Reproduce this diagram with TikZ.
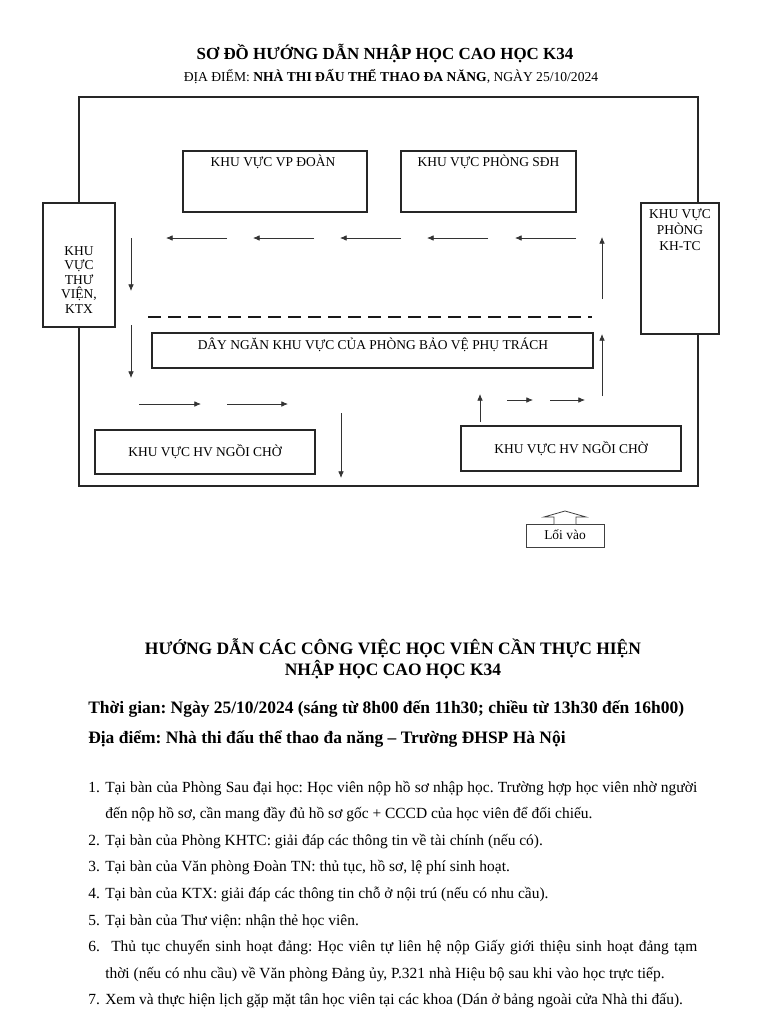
\documentclass[tikz,border=0pt]{standalone}
\usepackage{fontspec}
\setmainfont{Liberation Serif}
\usetikzlibrary{arrows.meta}
\frenchspacing
\begin{document}
\begin{tikzpicture}[x=0.75pt,y=-0.75pt,
  boxline/.style={draw=black!85, line width=0.8pt, fill=white},
  flow/.style={draw=black!80, line width=0.6pt, -{Latex[length=5pt,width=4.2pt]}},
  txt/.style={inner sep=0pt, anchor=base},
  lbl/.style={txt, font=\fontsize{10.1}{12}\selectfont},
  ttl/.style={txt, font=\fontsize{12.7}{14}\selectfont\bfseries},
  hdg/.style={txt, font=\fontsize{13.1}{15}\selectfont\bfseries},
  body/.style={inner sep=0pt, anchor=base west, font=\fontsize{11.6}{14}\selectfont},
  bhead/.style={inner sep=0pt, anchor=base west, font=\fontsize{13.1}{15}\selectfont\bfseries}]
\useasboundingbox[fill=white] (0,0) rectangle (768,1024);

% titles
\node[ttl] (t1) at (385,59.5) {SƠ ĐỒ HƯỚNG DẪN NHẬP HỌC CAO HỌC K34};
\node[txt, font=\fontsize{10.2}{12}\selectfont] (t2) at (391,81) {ĐỊA ĐIỂM: \textbf{NHÀ THI ĐẤU THỂ THAO ĐA NĂNG}, NGÀY 25/10/2024};

% outer hall
\draw[draw=black!85, line width=0.8pt] (79,97) rectangle (698,486);

% boxes
\draw[boxline] (43,203) rectangle (115,327);
\draw[boxline] (641,203) rectangle (719,334);
\draw[boxline] (183,151) rectangle (367,212);
\draw[boxline] (401,151) rectangle (576,212);
\draw[boxline] (152,333) rectangle (593,368);
\draw[boxline] (95,430) rectangle (315,474);
\draw[boxline] (461,426) rectangle (681,471);

% labels
\node[lbl] (vp) at (273,166.5) {KHU VỰC VP ĐOÀN};
\node[lbl] (sdh) at (488.5,166.5) {KHU VỰC PHÒNG SĐH};
\node[lbl] (tv1) at (79,255) {KHU};
\node[lbl] (tv2) at (79,269.5) {VỰC};
\node[lbl] (tv3) at (79,284) {THƯ};
\node[lbl] (tv4) at (79,298.5) {VIỆN,};
\node[lbl] (tv5) at (79,313) {KTX};
\node[lbl] (kh1) at (680,218.5) {KHU VỰC};
\node[lbl] (kh2) at (680,234.5) {PHÒNG};
\node[lbl] (kh3) at (680,250.5) {KH-TC};
\node[lbl] (bv) at (373,349) {DÂY NGĂN KHU VỰC CỦA PHÒNG BẢO VỆ PHỤ TRÁCH};
\node[lbl] (hv1) at (205,456) {KHU VỰC HV NGỒI CHỜ};
\node[lbl] (hv2) at (571,453) {KHU VỰC HV NGỒI CHỜ};

% rope
\draw[black!90, line width=2.2pt, dash pattern=on 9.4pt off 5.6pt] (148,317) -- (592,317);

% flow arrows
\foreach \a/\b [count=\i] in {227/166,314/253,401/340,488/427,576/515}{
  \coordinate (ts\i) at (\a,238); \coordinate (te\i) at (\b,238);
  \draw[flow] (ts\i) -- (te\i);}
\coordinate (ld1s) at (131,238); \coordinate (ld1e) at (131,291);
\draw[flow] (ld1s) -- (ld1e);
\coordinate (ld2s) at (131,325); \coordinate (ld2e) at (131,378);
\draw[flow] (ld2s) -- (ld2e);
\coordinate (ru1s) at (602,299); \coordinate (ru1e) at (602,237);
\draw[flow] (ru1s) -- (ru1e);
\coordinate (ru2s) at (602,396); \coordinate (ru2e) at (602,334);
\draw[flow] (ru2s) -- (ru2e);
\coordinate (br1s) at (139,404); \coordinate (br1e) at (201,404);
\draw[flow] (br1s) -- (br1e);
\coordinate (br2s) at (227,404); \coordinate (br2e) at (288,404);
\draw[flow] (br2s) -- (br2e);
\coordinate (dns) at (341,413); \coordinate (dne) at (341,478);
\draw[flow] (dns) -- (dne);
\coordinate (ups) at (480,422); \coordinate (upe) at (480,394);
\draw[flow] (ups) -- (upe);
\coordinate (sr1s) at (507,400); \coordinate (sr1e) at (533,400);
\draw[flow] (sr1s) -- (sr1e);
\coordinate (sr2s) at (550,400); \coordinate (sr2e) at (585,400);
\draw[flow] (sr2s) -- (sr2e);

% entrance
\draw[draw=black!75, line width=0.6pt] (526,524) rectangle (604,547);
\node[lbl] (lv) at (565,539.5) {Lối vào};
\draw[draw=black!75, line width=0.6pt, fill=white] (554,524) -- (554,517) -- (544,517) -- (565,511) -- (586,517) -- (576,517) -- (576,524);

% instructions
\node[hdg] (h1) at (393,654) {HƯỚNG DẪN CÁC CÔNG VIỆC HỌC VIÊN CẦN THỰC HIỆN};
\node[hdg] (h2) at (393,675) {NHẬP HỌC CAO HỌC K34};
\node[bhead] (tg) at (88,713.5) {Thời gian: Ngày 25/10/2024 (sáng từ 8h00 đến 11h30; chiều từ 13h30 đến 16h00)};
\node[bhead] (dd) at (88,743.5) {Địa điểm: Nhà thi đấu thể thao đa năng – Trường ĐHSP Hà Nội};

\node[body] (n1) at (88,792) {1.};
\node[body] (l1a) at (105,792) {\makebox[444pt][s]{Tại bàn của Phòng Sau đại học: Học viên nộp hồ sơ nhập học. Trường hợp học viên nhờ người}};
\node[body] (l1b) at (105,818.6) {đến nộp hồ sơ, cần mang đầy đủ hồ sơ gốc + CCCD của học viên để đối chiếu.};
\node[body] (n2) at (88,845.2) {2.};
\node[body] (l2) at (105,845.2) {Tại bàn của Phòng KHTC: giải đáp các thông tin về tài chính (nếu có).};
\node[body] (n3) at (88,871.8) {3.};
\node[body] (l3) at (105,871.8) {Tại bàn của Văn phòng Đoàn TN: thủ tục, hồ sơ, lệ phí sinh hoạt.};
\node[body] (n4) at (88,898.4) {4.};
\node[body] (l4) at (105,898.4) {Tại bàn của KTX: giải đáp các thông tin chỗ ở nội trú (nếu có nhu cầu).};
\node[body] (n5) at (88,925) {5.};
\node[body] (l5) at (105,925) {Tại bàn của Thư viện: nhận thẻ học viên.};
\node[body] (n6) at (88,951.6) {6.};
\node[body] (l6a) at (111,951.6) {\makebox[439.5pt][s]{Thủ tục chuyển sinh hoạt đảng: Học viên tự liên hệ nộp Giấy giới thiệu sinh hoạt đảng tạm}};
\node[body] (l6b) at (105,978.2) {thời (nếu có nhu cầu) về Văn phòng Đảng ủy, P.321 nhà Hiệu bộ sau khi vào học trực tiếp.};
\node[body] (n7) at (88,1004.8) {7.};
\node[body] (l7) at (105,1004.8) {Xem và thực hiện lịch gặp mặt tân học viên tại các khoa (Dán ở bảng ngoài cửa Nhà thi đấu).};
\end{tikzpicture}
\end{document}
